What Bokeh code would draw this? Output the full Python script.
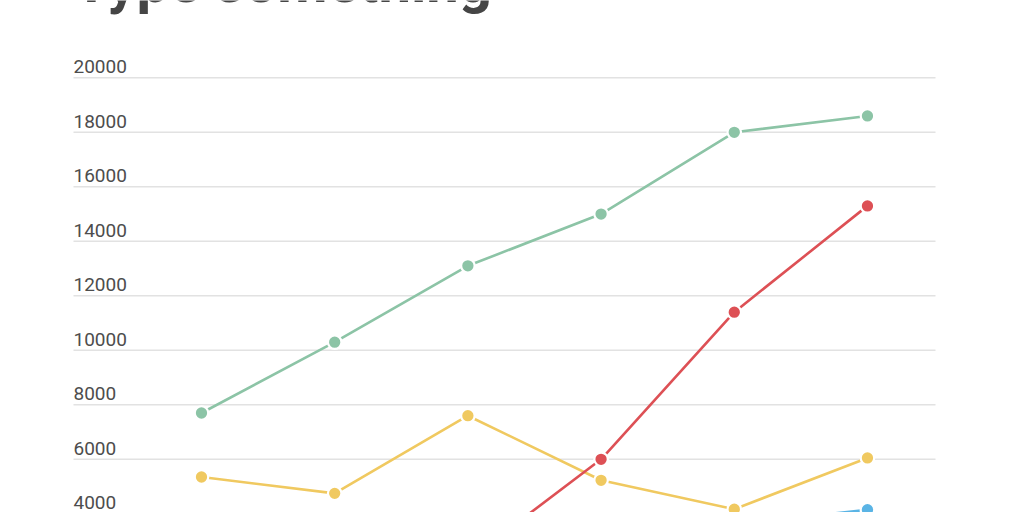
from bokeh.plotting import figure
from bokeh.models import Range1d, ColumnDataSource
from bokeh.core.properties import value
from bokeh.embed import file_html
from bokeh.resources import INLINE

# ---- data ----
categories = ["1", "2", "3", "4", "5", "6"]
green = [7700, 10300, 13100, 15000, 18000, 18600]
yellow = [5350, 4750, 7600, 5230, 4170, 6050]
red = [1000, 1500, 2300, 6000, 11400, 15300]
blue = [1200, 1800, 2400, 3000, 3600, 4150]
tick_values = [4000, 6000, 8000, 10000, 12000, 14000, 16000, 18000, 20000]
tick_labels = [str(t) for t in tick_values]
title_text = "Type something"

series = [
    (green, "#8cc4a6"),
    (yellow, "#f0c960"),
    (red, "#dd5055"),
    (blue, "#5ab4e5"),
]

xs = list(range(len(categories)))

W, H = 1024, 512
p = figure(width=W, height=H, output_backend="svg", toolbar_location=None,
           x_range=Range1d(-1.509, 6.179), y_range=Range1d(4048, 22837),
           min_border=0, min_border_left=0, min_border_right=0,
           min_border_top=0, min_border_bottom=0)
p.axis.visible = False
p.grid.visible = False
p.outline_line_color = None
p.background_fill_color = "white"
p.border_fill_color = "white"

gx0, gx1 = -0.961, 5.511
p.segment(x0=[gx0] * len(tick_values), x1=[gx1] * len(tick_values),
          y0=tick_values, y1=tick_values, line_color="#e2e2e2", line_width=1.6)

p.text(x=[gx0] * len(tick_values), y=tick_values, text=tick_labels,
       text_font=value("Roboto"), text_font_size="19px", text_color="#4d4d4d",
       text_align="left", text_baseline="alphabetic", y_offset=-11)

for vals, col in series:
    src = ColumnDataSource(dict(x=xs, y=vals))
    p.line("x", "y", source=src, line_color=col, line_width=2.6)
    p.scatter("x", "y", source=src, size=13.5, fill_color=col,
              line_color="white", line_width=2.2)

p.text(x=[gx0], y=[22653], text=[title_text],
       text_font=value("Roboto"), text_font_style="bold", text_font_size="58px",
       text_color="#454545", text_align="left", text_baseline="alphabetic",
       y_offset=-24)

open("out.html", "w").write(file_html(p, INLINE))
